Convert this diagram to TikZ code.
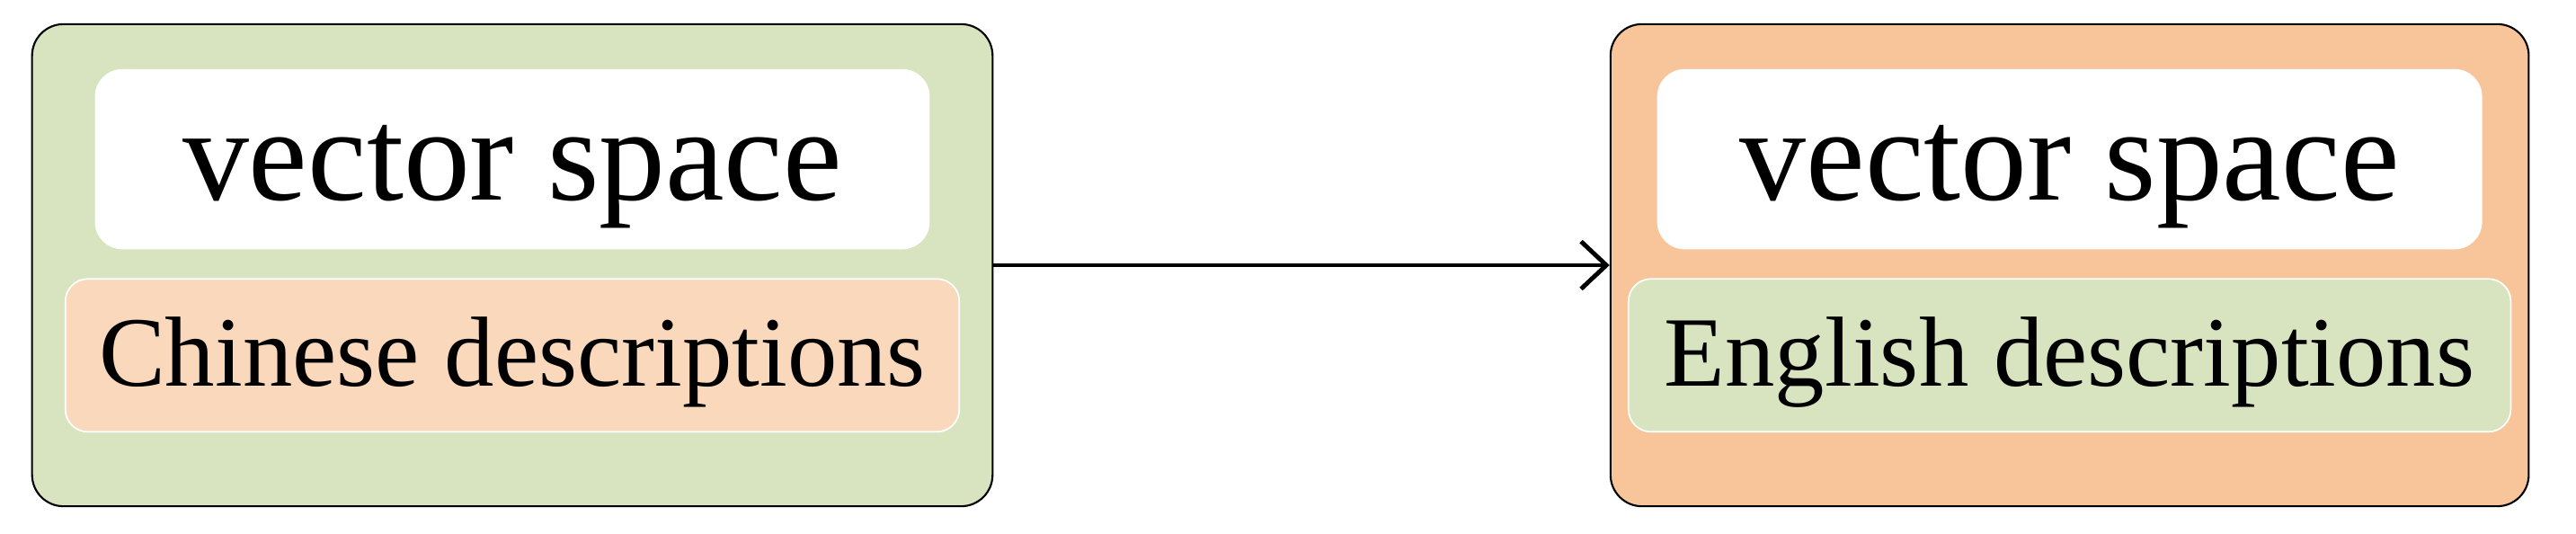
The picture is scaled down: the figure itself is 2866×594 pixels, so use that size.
\documentclass[tikz,border=0pt]{standalone}
\usepackage{fontspec}
\setmainfont{Liberation Serif}
\usetikzlibrary{positioning}
\usetikzlibrary{arrows.meta}
\definecolor{leafgreen}{HTML}{D8E3C0}
\definecolor{peach}{HTML}{F8C59A}
\definecolor{lightpeach}{HTML}{FAD8BC}

\begin{document}
\begin{tikzpicture}
        [x=0.01cm, y=-0.01cm,
         outerbox/.style={draw=black, line width=0.6pt, rounded corners=0.35cm, minimum height=5.36cm},
         spacebox/.style={draw=white, fill=white, rounded corners=0.3cm, minimum height=1.99cm,
                          text height=1.2cm, text depth=0.29cm, font=\fontsize{42}{48}\selectfont},
         descbox/.style={draw=white, line width=0.5pt, rounded corners=0.25cm, minimum height=1.70cm,
                         text height=0.9cm, text depth=0.22cm, font=\fontsize{31.5}{36}\selectfont},
         arrowline/.style={line width=1.4pt, -{Straight Barb[length=8pt, width=15pt]}}]
        \useasboundingbox (0,0) rectangle (2866,594);
        \node [outerbox, fill=leafgreen, minimum width=10.68cm] (zh) at (570,295) { };
        \node [outerbox, fill=peach, minimum width=10.21cm, right=6.85cm of zh] (en) { };
        \node [spacebox, minimum width=9.27cm, below=0.51cm of zh.north] (zhspace) {vector space};
        \node [descbox, fill=lightpeach, minimum width=9.94cm, below=0.32cm of zhspace] (zhdesc) {Chinese descriptions};
        \node [spacebox, minimum width=9.16cm, below=0.51cm of en.north] (enspace) {vector space};
        \node [descbox, fill=leafgreen, minimum width=9.81cm, below=0.32cm of enspace] (endesc) {English descriptions};
        \draw [arrowline] (zh.east) -- (en.west);
    \end{tikzpicture}
\end{document}
